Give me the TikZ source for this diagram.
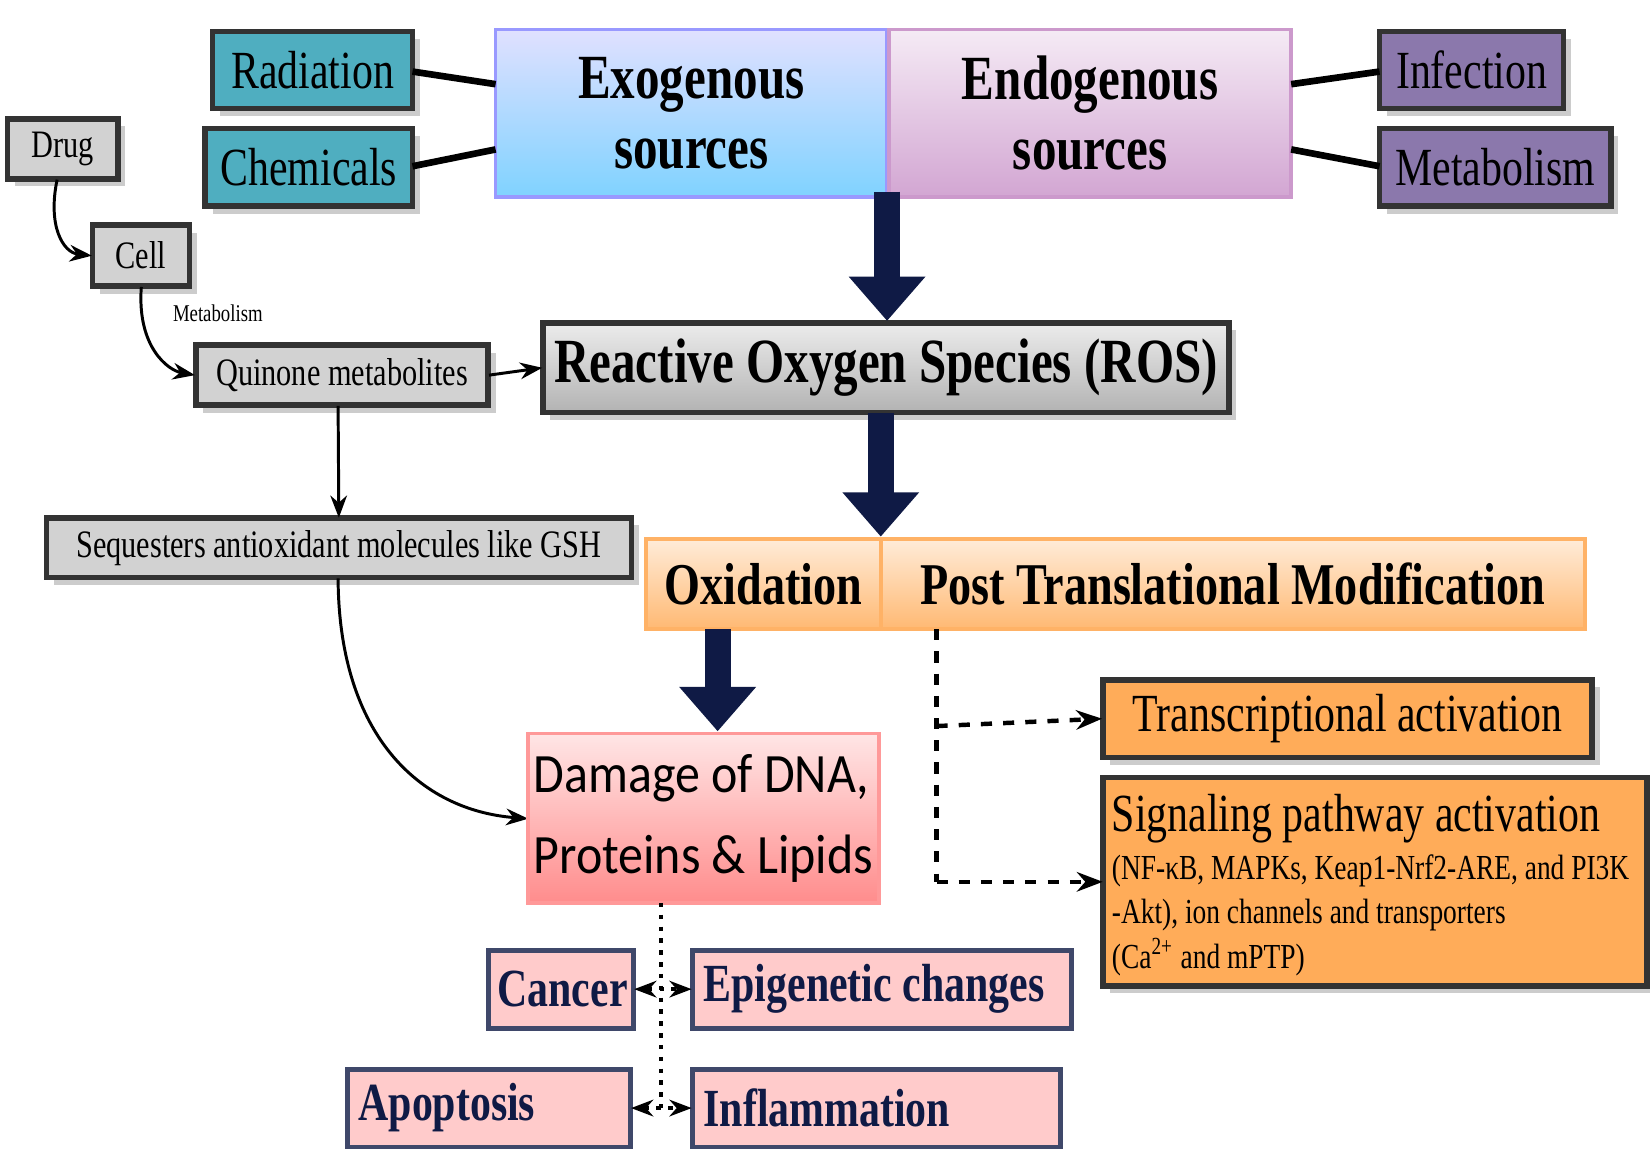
\documentclass[tikz,border=0pt]{standalone}
\usepackage{fontspec}
\setmainfont{Liberation Serif}
\newfontfamily\cond[FakeStretch=0.78]{Liberation Serif}
\newfontfamily\carl[FakeStretch=0.9]{Carlito}
\usetikzlibrary{arrows.meta,shadows}
\definecolor{navy}{HTML}{0F1A45}
\definecolor{tealb}{HTML}{4FAEC0}
\definecolor{purb}{HTML}{8B78AC}
\tikzset{
 bx/.style={draw=black!80,line width=1.5pt,inner sep=0pt,drop shadow={opacity=0.4,shadow xshift=2pt,shadow yshift=-2pt}},
 thick arr/.style={line width=7pt,navy,-{Triangle[length=12pt,width=20pt]}},
 thin arr/.style={line width=0.8pt,-{Stealth[length=6pt]}},
 outc/.style={font=\cond\bfseries\fontsize{14.5}{17}\selectfont,text=navy,anchor=west,inner sep=0pt},
}
\newcommand{\bbox}[7]{% name, x1,y1,x2,y2, style, text
 \path[#6] (#2,#3) rectangle (#4,#5);
 \node[inner sep=0pt] (#1) at ({(#2+#4)/2},{(#3+#5)/2}) [minimum width={(#4-#2)*0.01cm}, minimum height={(#5-#3)*0.01cm}] {#7};}
\begin{document}
\begin{tikzpicture}[x=0.01cm,y=-0.01cm]
\useasboundingbox (0,0) rectangle (1568,1100);
\fill[white] (0,0) rectangle (1568,1100);
% top
\bbox{rad}{202}{30}{392}{103}{bx,fill=tealb}{\cond\fontsize{14.5}{17}\selectfont Radiation}
\bbox{chem}{195}{122}{392}{196}{bx,fill=tealb}{\cond\fontsize{14.5}{17}\selectfont Chemicals}
\bbox{exo}{471}{28}{843}{187}{draw=blue!40,line width=1pt,top color=blue!12,bottom color=blue!35!cyan!50}{\cond\bfseries\fontsize{17}{22}\selectfont\shortstack{Exogenous\\[4pt]sources}}
\bbox{endo}{845}{28}{1227}{187}{draw=violet!40,line width=1pt,top color=violet!8,bottom color=violet!35}{\cond\bfseries\fontsize{17}{22}\selectfont\shortstack{Endogenous\\[4pt]sources}}
\bbox{inf}{1311}{30}{1486}{103}{bx,fill=purb}{\cond\fontsize{14.5}{17}\selectfont Infection}
\bbox{met}{1311}{122}{1531}{196}{bx,fill=purb}{\cond\fontsize{14.5}{17}\selectfont Metabolism}
\draw[line width=1.8pt] (392,68) -- (471,80);
\draw[line width=1.8pt] (392,158) -- (471,142);
\draw[line width=1.8pt] (1227,80) -- (1311,68);
\draw[line width=1.8pt] (1227,142) -- (1311,158);
% left chain
\bbox{drug}{7}{113}{112}{170}{bx,fill=gray!35}{\cond\fontsize{10.5}{12}\selectfont Drug}
\bbox{cell}{88}{214}{180}{272}{bx,fill=gray!35}{\cond\fontsize{10.5}{12}\selectfont Cell}
\bbox{quin}{186}{328}{464}{385}{bx,fill=gray!35}{\cond\fontsize{10.5}{12}\selectfont Quinone metabolites}
\bbox{seq}{44}{492}{600}{549}{bx,fill=gray!35}{\cond\fontsize{10.5}{12}\selectfont Sequesters antioxidant molecules like GSH}
\bbox{ros}{516}{307}{1168}{392}{bx,top color=gray!15,bottom color=gray!60}{\cond\bfseries\fontsize{17}{21}\selectfont Reactive Oxygen Species (ROS)}
\node[font=\cond\fontsize{6.5}{8}\selectfont] (mlab) at (207,298) {Metabolism};
\draw[thin arr] (drug.south west) ++(48,0) coordinate (d1) .. controls (45,215) and (60,240) .. (cell.west);
\draw[thin arr] (cell.south west) ++(47,0) coordinate (c1) .. controls (130,330) and (160,352) .. (quin.west);
\draw[thin arr] (quin.east) -- (ros.west);
\draw[thin arr] (quin.south west) ++(136,0) coordinate (q1) -- (322,492);
\draw[thin arr] (seq.south west) ++(278,0) coordinate (s1) .. controls (322,700) and (400,770) .. (502,778);
% oxidation
\bbox{oxi}{614}{512}{837}{598}{draw=orange!60,line width=1pt,top color=orange!15,bottom color=orange!55}{\cond\bfseries\fontsize{16}{20}\selectfont Oxidation}
\bbox{ptm}{837}{512}{1506}{598}{draw=orange!60,line width=1pt,top color=orange!15,bottom color=orange!55}{\cond\bfseries\fontsize{16}{20}\selectfont Post Translational Modification}
\draw[thick arr] (843,182) -- (843,305);
\draw[thick arr] (837,392) -- (837,510);
\draw[thick arr] (682,598) -- (682,695);
\bbox{dmg}{502}{697}{835}{858}{draw=red!40,line width=1pt,top color=red!10,bottom color=red!45}{\carl\fontsize{15}{20}\selectfont\begin{tabular}{@{}l@{}}Damage of DNA,\\[2pt]Proteins \& Lipids\end{tabular}}
\bbox{tra}{1048}{646}{1513}{720}{bx,fill=orange!65!white}{\cond\fontsize{14.5}{17}\selectfont Transcriptional activation}
\path[bx,fill=orange!65!white] (1048,739) rectangle (1565,937);
\node[anchor=north west,inner sep=0pt,align=left] (sig) at (1056,754) {{\cond\fontsize{14.5}{17}\selectfont Signaling pathway activation}\\[1pt]{\cond\fontsize{9.5}{12.5}\selectfont (NF-κB, MAPKs, Keap1-Nrf2-ARE, and PI3K}\\{\cond\fontsize{9.5}{12.5}\selectfont -Akt), ion channels and transporters}\\{\cond\fontsize{9.5}{12.5}\selectfont (Ca\textsuperscript{2+} and mPTP)}};
\coordinate (sigw) at (1048,838);
\draw[dashed,line width=1.2pt] (890,598) -- (890,838);
\draw[dashed,line width=1.2pt,-{Stealth[length=7pt]}] (890,690) -- (tra.west);
\draw[dashed,line width=1.2pt,-{Stealth[length=7pt]}] (890,838) -- (sigw);
% outcomes
\tikzset{pk/.style={draw=navy!80,line width=1.3pt,fill=red!12!pink!60}}
\bbox{can}{464}{903}{602}{977}{pk}{}
\bbox{epi}{658}{903}{1018}{977}{pk}{}
\bbox{apo}{330}{1016}{599}{1090}{pk}{}
\bbox{inl}{658}{1016}{1008}{1090}{pk}{}
\node[outc] (tcan) at (472,940) {Cancer};
\node[outc] (tepi) at (668,940) {Epigenetic changes};
\node[outc] (tapo) at (340,1053) {Apoptosis};
\node[outc] (tinl) at (668,1053) {Inflammation};
\draw[dotted,line width=1.2pt] (628,858) -- (628,1053);
\draw[dotted,line width=1.2pt,{Stealth[length=6pt]}-{Stealth[length=6pt]}] (can.east) -- (epi.west);
\draw[dotted,line width=1.2pt,{Stealth[length=6pt]}-{Stealth[length=6pt]}] (apo.east) -- (inl.west);
\end{tikzpicture}
\end{document}
